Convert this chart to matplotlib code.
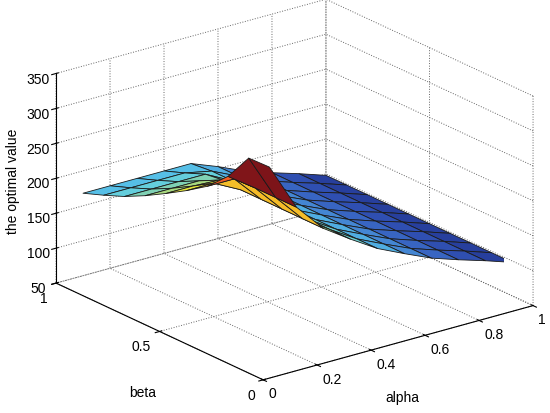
import numpy as np
import matplotlib
matplotlib.use("Agg")
from matplotlib import pyplot as plt
from matplotlib import colors

plt.rcParams['font.family'] = ['Liberation Sans', 'DejaVu Sans']
plt.rcParams['grid.linestyle'] = ':'
plt.rcParams['grid.color'] = '0.4'
plt.rcParams['grid.linewidth'] = 0.7

## grid values
alpha = [0.1, 0.2, 0.3, 0.4, 0.5, 0.6, 0.7, 0.8, 0.9, 1.0]
beta = [0.1, 0.2, 0.3, 0.4, 0.5, 0.6, 0.7, 0.8, 0.9, 1.0]

## optimal value, one row per beta, one column per alpha
z_b01 = [330, 262, 221, 195, 171, 153, 136, 123, 111, 98]
z_b02 = [329, 262, 221, 195, 171, 153, 136, 123, 111, 98]
z_b03 = [289, 262, 221, 195, 171, 153, 136, 123, 111, 98]
z_b04 = [261, 261, 221, 195, 171, 153, 136, 123, 111, 98]
z_b05 = [241, 241, 221, 195, 171, 153, 136, 123, 111, 98]
z_b06 = [223, 223, 221, 195, 171, 153, 136, 123, 111, 98]
z_b07 = [206, 206, 206, 195, 171, 153, 136, 123, 111, 98]
z_b08 = [191, 191, 191, 191, 171, 153, 136, 123, 111, 98]
z_b09 = [179, 179, 179, 179, 171, 153, 136, 123, 111, 98]
z_b10 = [168, 168, 168, 168, 168, 153, 136, 123, 111, 98]

Z = np.array([z_b01, z_b02, z_b03, z_b04, z_b05,
              z_b06, z_b07, z_b08, z_b09, z_b10], dtype=float)
A, B = np.meshgrid(alpha, beta)

## muted jet, as printed
jet_nodes = [0.0, 0.125, 0.25, 0.375, 0.5, 0.625, 0.75, 0.875, 1.0]
jet_cols = ['#1e2d87', '#3255b9', '#468cd7', '#5acdeb', '#8cd2a0',
            '#ebe632', '#faa523', '#e62823', '#7d1419']
cmap = colors.LinearSegmentedColormap.from_list('mjet', list(zip(jet_nodes, jet_cols)))
norm = colors.Normalize(vmin=Z.min(), vmax=Z.max())
fc = cmap(norm(Z))

fig = plt.figure(figsize=(5.5, 4.13), dpi=100)
ax = fig.add_axes([0.005, 0.007, 1.04, 1.04], projection='3d')
ax.set_proj_type('ortho')
ax.view_init(elev=21, azim=-127.5)
ax.set_box_aspect((1, 1, 0.66), zoom=1.2)

ax.plot_surface(A, B, Z, facecolors=fc, rstride=1, cstride=1,
                edgecolor='#1a1a1a', linewidth=0.6, shade=False, antialiased=True)

ax.set_xlim(0, 1)
ax.set_ylim(0, 1)
ax.set_zlim(50, 350)
ax.set_xticks([0, 0.2, 0.4, 0.6, 0.8, 1])
ax.set_xticklabels(['0', '0.2', '0.4', '0.6', '0.8', '1'], ha='left')
ax.set_yticks([0, 0.5, 1])
ax.set_yticklabels(['0', '0.5', '1'], ha='right')
ax.set_zticks([50, 100, 150, 200, 250, 300, 350])
ax.tick_params(labelsize=10)
ax.tick_params(axis='x', pad=-4)
ax.tick_params(axis='y', pad=-3)
ax.tick_params(axis='z', pad=-2)

for axis in (ax.xaxis, ax.yaxis, ax.zaxis):
    axis.pane.fill = False
    axis.pane.set_edgecolor('none')
    axis.line.set_linewidth(0.8)

## axis titles, placed like the MATLAB figure
fig.text(402 / 550, 1 - 398 / 413, 'alpha', fontsize=10, ha='center', va='center')
fig.text(143 / 550, 1 - 393 / 413, 'beta', fontsize=10, ha='center', va='center')
fig.text(13 / 550, 1 - 181 / 413, 'the optimal value', fontsize=10,
         ha='center', va='center', rotation=90)

fig.savefig("out.png", dpi=100)
